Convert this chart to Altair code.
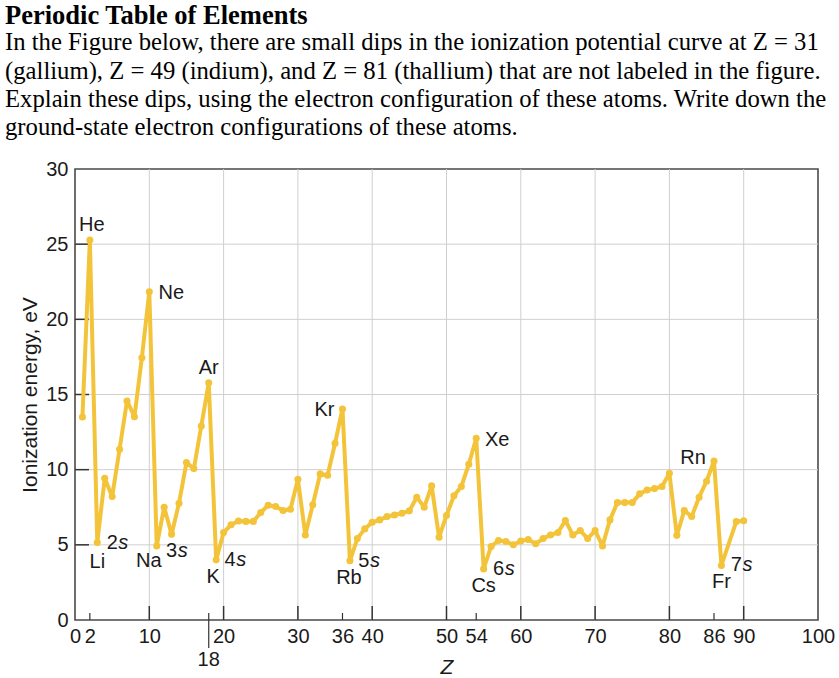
import altair as alt
import pandas as pd

# First ionization energy (eV) against atomic number Z
z_values = list(range(1, 88)) + [89, 90]
ie_values = [
    13.5, 25.27, 5.15, 9.43, 8.21, 11.36, 14.57, 13.52, 17.45, 21.83,
    4.93, 7.5, 5.71, 7.77, 10.47, 10.07, 12.91, 15.78, 4.0, 5.82,
    6.33, 6.59, 6.56, 6.56, 7.15, 7.63, 7.55, 7.28, 7.37, 9.36,
    5.66, 7.66, 9.72, 9.63, 11.76, 14.04, 3.94, 5.42, 6.06, 6.5,
    6.66, 6.88, 6.99, 7.1, 7.26, 8.17, 7.5, 8.92, 5.51, 6.95,
    8.26, 8.88, 10.36, 12.09, 3.4, 4.89, 5.29, 5.22, 5.0, 5.25,
    5.35, 5.07, 5.42, 5.66, 5.82, 6.62, 5.66, 5.95, 5.42, 5.95,
    4.93, 6.66, 7.81, 7.81, 7.81, 8.39, 8.65, 8.74, 8.88, 9.76,
    5.63, 7.28, 6.88, 8.17, 9.23, 10.58, 3.63, 6.55, 6.6,
]

# Element names beside peaks and troughs: (symbol, Z, dx, dy)
element_labels = [
    ("He", 2, 2, -15), ("Ne", 10, 22, 1), ("Ar", 18, 0, -15),
    ("Li", 3, 0, 19), ("Na", 11, -8, 15), ("K", 19, -3, 17),
    ("Kr", 36, -18, 1), ("Rb", 37, -1, 17), ("Xe", 54, 21, 2),
    ("Cs", 55, 0, 17), ("Rn", 86, -21, -3), ("Fr", 87, 0, 17),
]
# Shell labels for the alkali troughs: (shell number, Z, dx, dy)
shell_labels = [
    ("2", 3, 20, 0), ("3", 11, 20, 5), ("4", 19, 19, 0),
    ("5", 37, 19, 0), ("6", 55, 20, 0), ("7", 87, 20, 0),
]

x_label_values = [0, 2, 10, 20, 30, 36, 40, 50, 54, 60, 70, 80, 86, 90, 100]
x_major_ticks = [10, 20, 30, 40, 50, 60, 70, 80, 90]
x_minor_ticks = [2, 36, 54, 86]
y_ticks = [5, 10, 15, 20, 25]

header_title = "Periodic Table of Elements"
header_lines = [
    "In the Figure below, there are small dips in the ionization potential curve at Z = 31",
    "(gallium), Z = 49 (indium), and Z = 81 (thallium) that are not labeled in the figure.",
    "Explain these dips, using the electron configuration of these atoms. Write down the",
    "ground-state electron configurations of these atoms.",
]

W, H = 743, 451
LINE = "#F3C43A"
INK = "#1a1a1a"
SANS = "Liberation Sans"
SERIF = "Liberation Serif"
FS = 20

df = pd.DataFrame({"Z": z_values, "IE": ie_values})

xs = alt.Scale(domain=[0, 100], nice=False, zero=False)
ys = alt.Scale(domain=[0, 30], nice=False)

x_axis = alt.Axis(values=x_label_values, labelFontSize=FS, labelFont=SANS, labelColor=INK,
                  labelPadding=6, tickSize=0, domain=False, grid=False, title="Z",
                  titleFont=SANS, titleFontSize=21, titleFontStyle="italic",
                  titleFontWeight="normal", titleColor=INK, titleY=47,
                  titleBaseline="middle", labelFlush=False, labelOverlap=False)
y_axis = alt.Axis(values=[0, 5, 10, 15, 20, 25, 30], labelFontSize=FS, labelFont=SANS,
                  labelColor=INK, labelPadding=7, tickSize=0, domain=False, grid=False,
                  title="Ionization energy, eV", titleFont=SANS, titleFontSize=21,
                  titleFontWeight="normal", titleColor=INK, titleX=-45, titleY=H / 2,
                  titleBaseline="middle", titleAlign="center", titleAngle=270,
                  labelFlush=False)

# gridlines
xgrid = alt.Chart(pd.DataFrame({"Z": x_major_ticks})).mark_rule(
    color="#cfcfcf", strokeWidth=1).encode(x=alt.X("Z:Q", scale=xs))
ygrid = alt.Chart(pd.DataFrame({"IE": y_ticks})).mark_rule(
    color="#cfcfcf", strokeWidth=1).encode(y=alt.Y("IE:Q", scale=ys))

# inward ticks
xmaj = alt.Chart(pd.DataFrame({"Z": x_major_ticks})).mark_rule(
    color="#333", strokeWidth=1.5).encode(
    x=alt.X("Z:Q", scale=xs), y=alt.value(H), y2=alt.value(H - 14))
xmin = alt.Chart(pd.DataFrame({"Z": x_minor_ticks})).mark_rule(
    color="#333", strokeWidth=1.2).encode(
    x=alt.X("Z:Q", scale=xs), y=alt.value(H), y2=alt.value(H - 7))
x18 = alt.Chart(pd.DataFrame({"Z": [18]})).mark_rule(
    color="#333", strokeWidth=1.2).encode(
    x=alt.X("Z:Q", scale=xs), y=alt.value(H - 7), y2=alt.value(H + 28))
x18_label = alt.Chart(pd.DataFrame({"Z": [18], "t": ["18"]})).mark_text(
    font=SANS, fontSize=FS, color=INK, baseline="middle").encode(
    x=alt.X("Z:Q", scale=xs), y=alt.value(H + 40), text="t:N")
yt = alt.Chart(pd.DataFrame({"IE": y_ticks})).mark_rule(
    color="#333", strokeWidth=1.5).encode(
    y=alt.Y("IE:Q", scale=ys), x=alt.value(0), x2=alt.value(14))

base = alt.Chart(df).encode(
    x=alt.X("Z:Q", scale=xs, axis=x_axis),
    y=alt.Y("IE:Q", scale=ys, axis=y_axis),
)
line = base.mark_line(color=LINE, strokeWidth=4, strokeJoin="round")
pts = base.mark_circle(color=LINE, size=50, opacity=1)

layers = [xgrid, ygrid, xmaj, xmin, x18, x18_label, yt, line, pts]

for sym, z, dx, dy in element_labels:
    layers.append(
        alt.Chart(df).transform_filter(alt.datum.Z == z).mark_text(
            font=SANS, fontSize=FS, color=INK, dx=dx, dy=dy, baseline="middle"
        ).encode(x=alt.X("Z:Q", scale=xs), y=alt.Y("IE:Q", scale=ys),
                 text=alt.value(sym))
    )
for num, z, dx, dy in shell_labels:
    f = alt.Chart(df).transform_filter(alt.datum.Z == z)
    layers.append(
        f.mark_text(font=SANS, fontSize=FS, color=INK, dx=dx + 0.5, dy=dy,
                    align="right", baseline="middle").encode(
            x=alt.X("Z:Q", scale=xs), y=alt.Y("IE:Q", scale=ys), text=alt.value(num))
    )
    layers.append(
        f.mark_text(font=SANS, fontSize=FS, color=INK, dx=dx + 1, dy=dy,
                    align="left", baseline="middle", fontStyle="italic").encode(
            x=alt.X("Z:Q", scale=xs), y=alt.Y("IE:Q", scale=ys), text=alt.value("s"))
    )

# problem statement above the plot
header_y = [-153, -126, -97, -69, -41]
layers.append(
    alt.Chart(pd.DataFrame({"t": [header_title]})).mark_text(
        font=SERIF, fontSize=26.5, fontWeight="bold", color="#000",
        align="left", baseline="middle").encode(
        x=alt.value(-70), y=alt.value(header_y[0]), text="t:N")
)
for ln, yy in zip(header_lines, header_y[1:]):
    layers.append(
        alt.Chart(pd.DataFrame({"t": [ln]})).mark_text(
            font=SERIF, fontSize=24.7, color="#000", align="left", baseline="middle").encode(
            x=alt.value(-70), y=alt.value(yy), text="t:N")
    )

chart = alt.layer(*layers).properties(
    width=W, height=H,
    autosize=alt.AutoSizeParams(type="none"),
    padding={"left": 75, "top": 169, "right": 21, "bottom": 58},
    background="white",
).configure_view(stroke="#4a4a4a", strokeWidth=1.6)

chart.save("out.html", embed_options={"renderer": "svg", "actions": False})
